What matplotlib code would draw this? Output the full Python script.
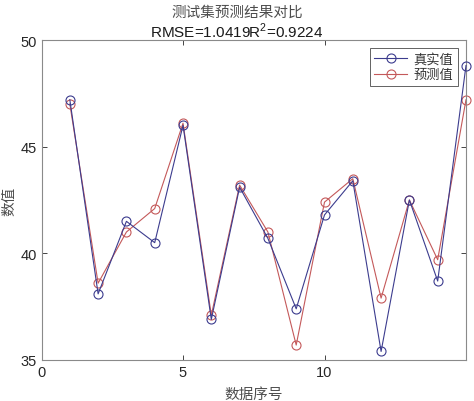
import numpy as np
import matplotlib
matplotlib.use("Agg")
import matplotlib.pyplot as plt

plt.rcParams['font.family'] = ['Liberation Sans', 'Noto Sans CJK SC', 'DejaVu Sans']
plt.rcParams['mathtext.fontset'] = 'custom'
plt.rcParams['mathtext.rm'] = 'Liberation Sans'

# data
idx = np.arange(1, 16)
true_vals = [47.2, 38.1, 41.5, 40.5, 46.0, 36.9, 43.1, 40.7, 37.4, 41.8, 43.4, 35.4, 42.5, 38.7, 48.8]
pred_vals = [47.0, 38.6, 41.0, 42.1, 46.1, 37.1, 43.2, 41.0, 35.7, 42.4, 43.5, 37.9, 42.5, 39.7, 47.2]
rmse = 1.0419
r2 = 0.9224

c_true = '#3c3c8e'
c_pred = '#c4595a'
gray = '#4d4d4d'

fig = plt.figure(figsize=(4.74, 4.02), dpi=100)
ax = fig.add_axes([0.0876, 0.102, 0.8955, 0.796])

ax.plot(idx, true_vals, '-o', color=c_true, lw=0.8, ms=6.5, mfc='none', mew=0.8,
        label='真实值', clip_on=False, zorder=3)
ax.plot(idx, pred_vals, '-o', color=c_pred, lw=0.8, ms=6.5, mfc='none', mew=0.8,
        label='预测值', clip_on=False, zorder=2)

ax.set_xlim(0, 15)
ax.set_ylim(35, 50)
ax.set_xticks([0, 5, 10])
ax.set_yticks([35, 40, 45, 50])
ax.tick_params(direction='in', top=True, right=True, labelsize=10.5,
               colors='#262626', length=3.5, width=0.6)
for s in ax.spines.values():
    s.set_color('#8a8a8a')
    s.set_linewidth(0.8)

ax.set_xlabel('数据序号', fontsize=10.5, color=gray, labelpad=6,
              family=['Noto Sans CJK SC'])
ax.set_ylabel('数值', fontsize=10.5, color=gray, labelpad=3,
              family=['Noto Sans CJK SC'])

fig.text(0.5, 0.968, '测试集预测结果对比', ha='center', va='center', fontsize=10.5,
         color=gray, family=['Noto Sans CJK SC'])
fig.text(0.5, 0.922, 'RMSE=%.4fR$^2$=%.4f' % (rmse, r2), ha='center', va='center',
         fontsize=11, color='#1a1a1a')

leg = ax.legend(loc='upper right', frameon=True, fancybox=False,
                edgecolor='#3a3a3a', borderpad=0.35, handlelength=2.5,
                handletextpad=0.5, labelspacing=0.2, borderaxespad=0.6,
                prop={'family': ['Noto Sans CJK SC'], 'size': 9.5})
leg.get_frame().set_linewidth(0.7)
for t in leg.get_texts():
    t.set_color('#333333')

fig.savefig('out.png', dpi=100, facecolor='white')
